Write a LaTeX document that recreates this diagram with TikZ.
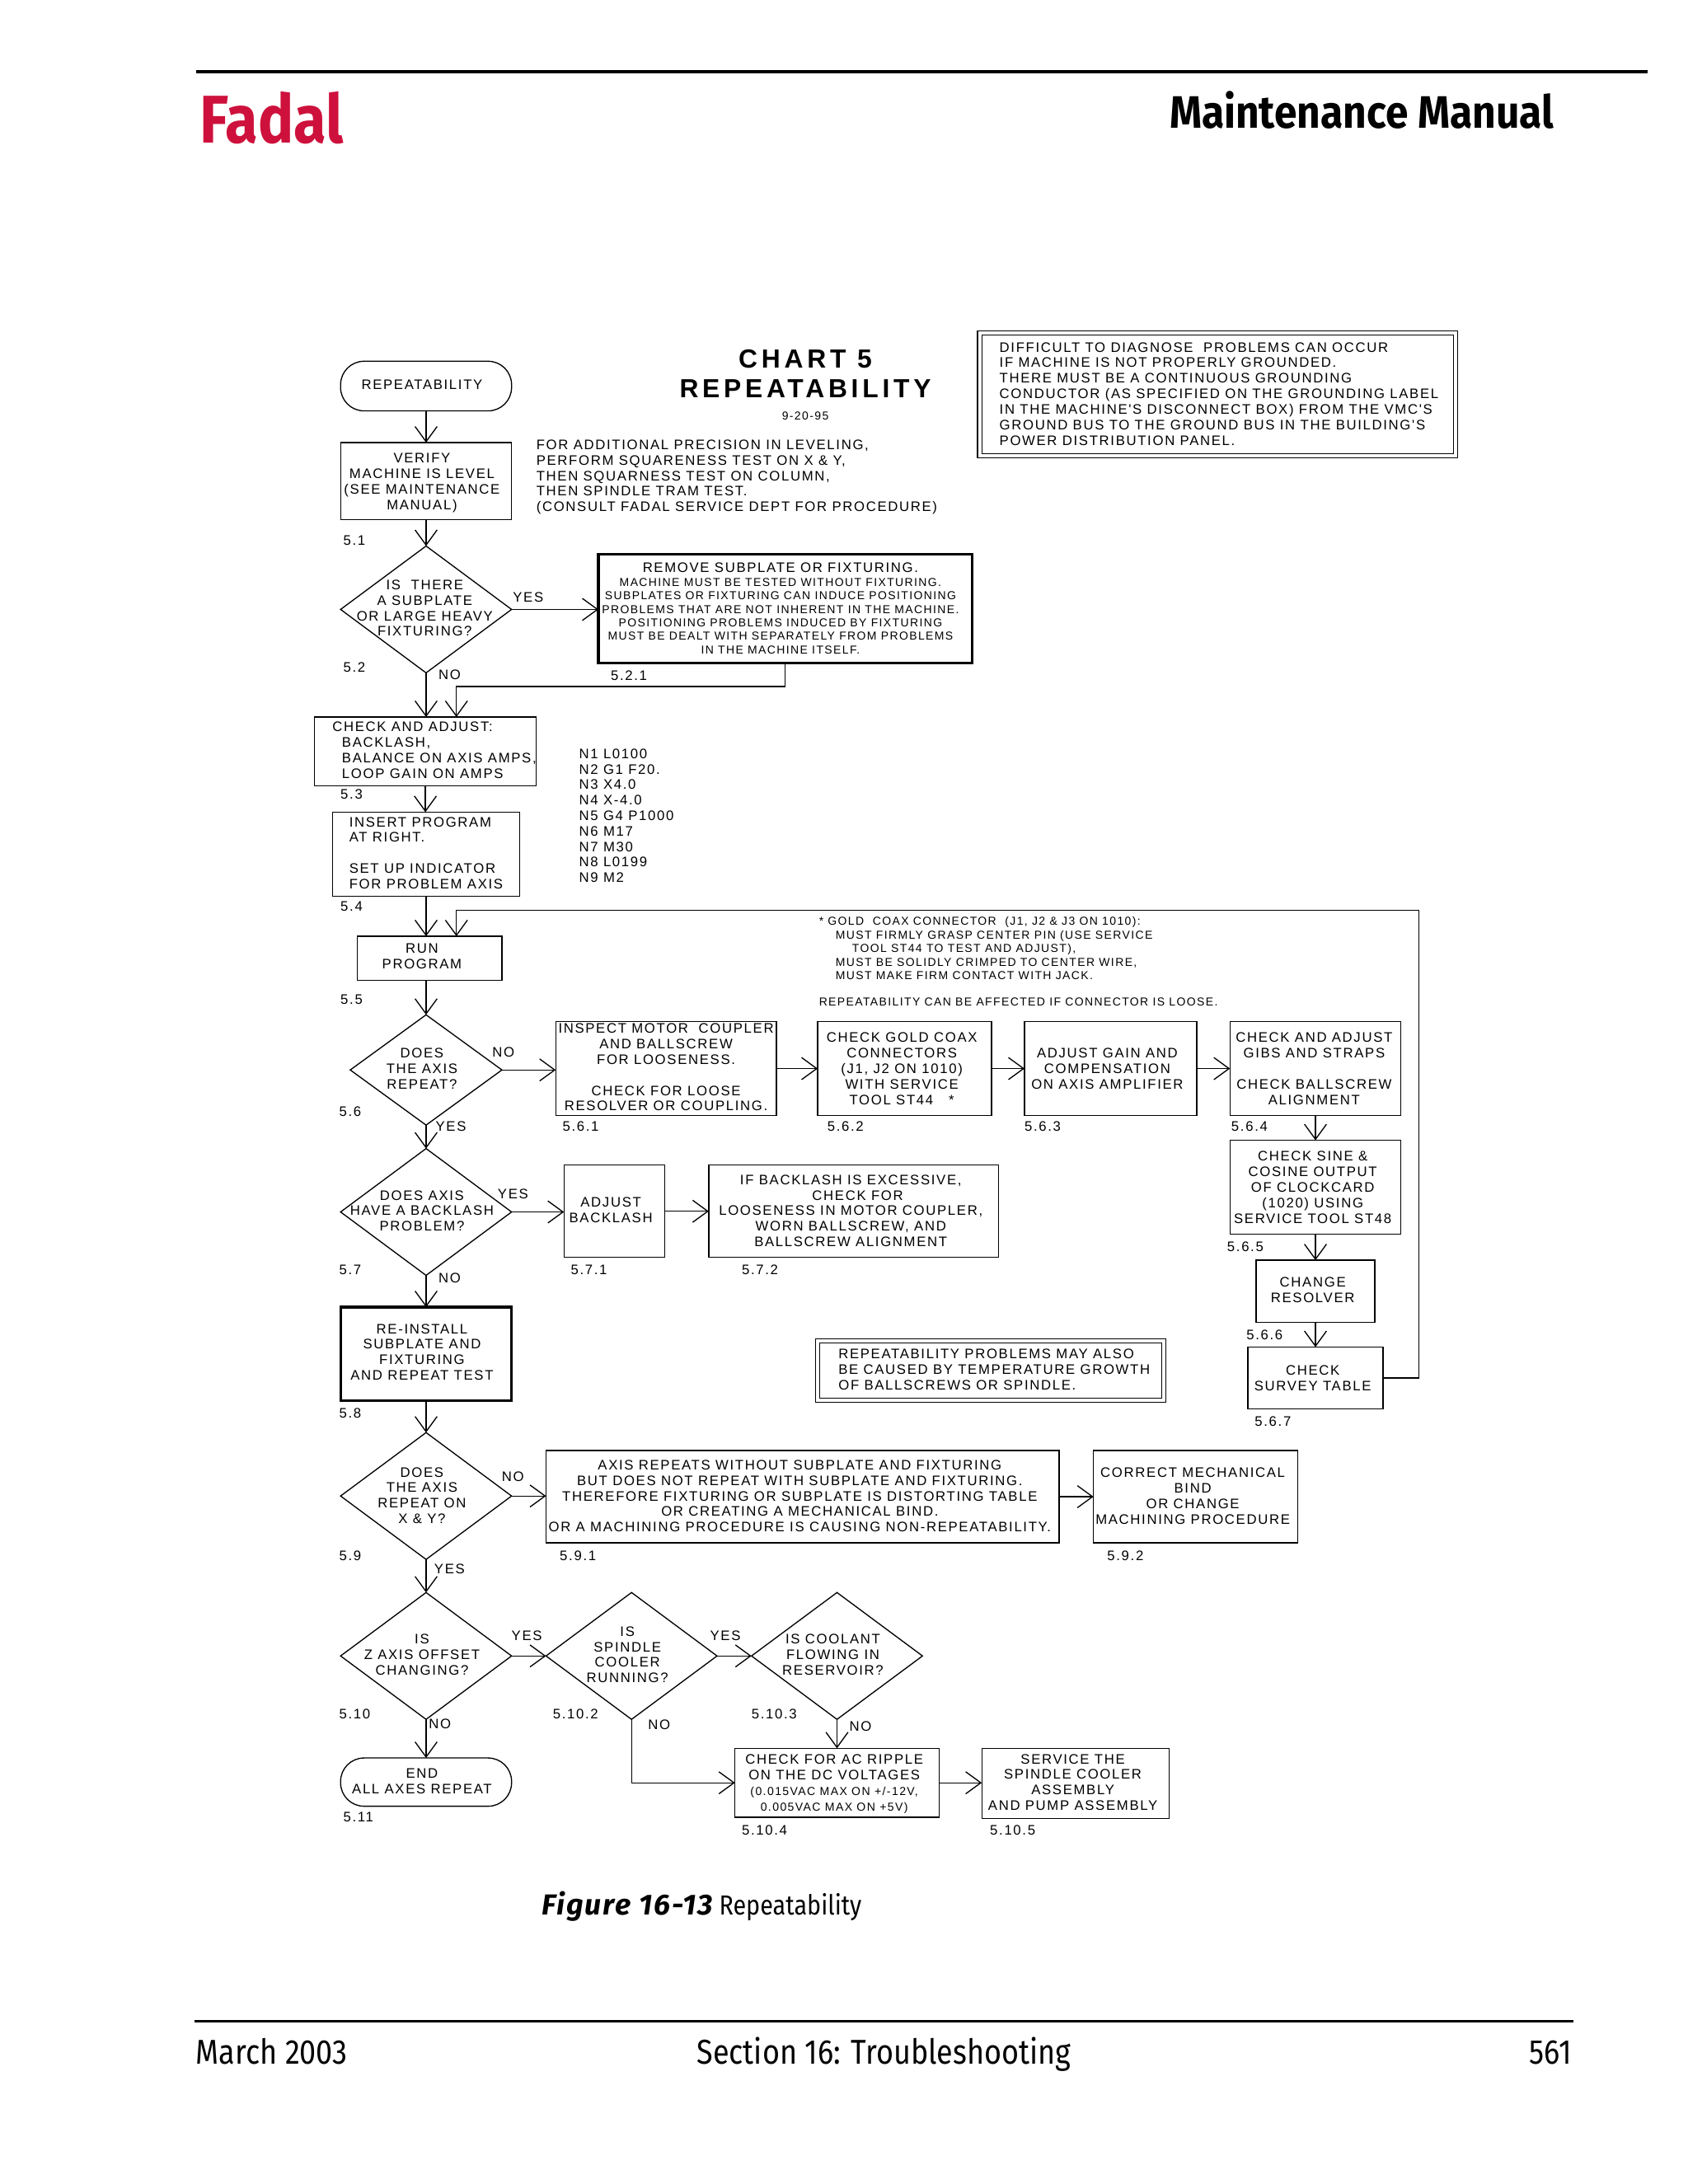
\documentclass[tikz,border=0pt]{standalone}
\usepackage{fontspec}
\usetikzlibrary{shapes.geometric,arrows.meta}
\setmainfont{Liberation Sans}
\newfontfamily\chartf[LetterSpace=10]{Liberation Sans}
\newfontfamily\titlef[LetterSpace=15,BoldFont={Liberation Sans Bold}]{Liberation Sans}
\newfontfamily\metaf[FakeStretch=.86]{Fira Sans}
\newfontfamily\brandf[FakeStretch=.88]{Fira Sans}
\newfontfamily\headf[FakeStretch=.9]{Fira Sans}
\newfontfamily\capf[FakeStretch=1.02,LetterSpace=5]{Fira Sans}
\newcommand\fs[2]{\fontsize{#1}{#2}\selectfont}
\definecolor{fadalred}{RGB}{206,17,60}
\newcommand\ML[4]{\makebox[0pt]{\kern#2pt\smash{\raisebox{\dimexpr#3pt-3.8pt\relax}{\begin{tabular}{@{}#1@{}}#4\end{tabular}}}\kern-#2pt}}
\newcommand\FB[9]{%
 \pgfmathsetmacro\fbcx{(#2+#4)/2}\pgfmathsetmacro\fbcy{(#3+#5)/2}%
 \pgfmathsetmacro\fbdx{#7-\fbcx}\pgfmathsetmacro\fbdy{\fbcy-#8}%
 \node[flowbox,#6,minimum width={(#4-#2)*1pt},minimum height={(#5-#3)*1pt}] (#1) at (\fbcx,\fbcy) {\ML{c}{\fbdx}{\fbdy}{#9}};}
\newcommand\FBL[9]{%
 \pgfmathsetmacro\fbcx{(#2+#4)/2}\pgfmathsetmacro\fbcy{(#3+#5)/2}%
 \pgfmathsetmacro\fbdx{#7-\fbcx}\pgfmathsetmacro\fbdy{\fbcy-#8}%
 \node[flowbox,#6,minimum width={(#4-#2)*1pt},minimum height={(#5-#3)*1pt}] (#1) at (\fbcx,\fbcy) {\ML{l}{\fbdx}{\fbdy}{#9}};}
% name, x, y, style, lines
\newcommand\TL[5]{\node[freetext,anchor=west,#4] (#1) at (#2,#3) {\begin{tabular}{@{}l@{}}#5\end{tabular}};}
\newcommand\TC[5]{\node[freetext,anchor=center,#4] (#1) at (#2,#3) {\begin{tabular}{@{}c@{}}#5\end{tabular}};}
\tikzset{
 flowbox/.style={draw,line width=.8pt,inner sep=0pt,outer sep=0pt,font=\chartf\fs{10}{11.25}},
 heavy/.style={line width=2pt},
 dbl/.style={double,double distance=2.4pt,line width=.8pt},
 term/.style={rounded corners=17pt},
 decision/.style={shape=diamond},
 smallbox/.style={font=\chartf\fs{8.35}{9.8}},
 freetext/.style={inner sep=0pt,outer sep=0pt,yshift=-1.3pt,font=\chartf\fs{10}{11.25}},
 smalltext/.style={font=\chartf\fs{8.35}{9.8}},
 flowline/.style={draw,line width=.8pt,-{Straight Barb[length=11pt,width=16pt]}},
 plainline/.style={draw,line width=.8pt},
 pagerule/.style={draw,line width=2.2pt}
}
\begin{document}
\begin{tikzpicture}[x=1pt,y=-1pt]
\useasboundingbox (0,0) rectangle (1224,1584);
% page furniture
\coordinate (ruleAa) at (142,52); \coordinate (ruleAb) at (1195,52);
\coordinate (ruleBa) at (141,1466); \coordinate (ruleBb) at (1141,1466);
\draw[pagerule] (ruleAa) -- (ruleAb);
\draw[pagerule] (ruleBa) -- (ruleBb);
\node[inner sep=0pt,anchor=base west,text=fadalred,font=\brandf\bfseries\fs{49}{49}] (brand) at (145,104) {Fadal};
\node[inner sep=0pt,anchor=base east,font=\headf\bfseries\fs{33}{33}] (manual) at (1127,93) {Maintenance Manual};
\node[inner sep=0pt,anchor=base west,font=\metaf\fs{25}{25}] (date) at (142,1497) {March 2003};
\node[inner sep=0pt,anchor=base,font=\metaf\fs{25}{25}] (section) at (641,1497) {Section 16: Troubleshooting};
\node[inner sep=0pt,anchor=base east,font=\metaf\fs{25}{25}] (page) at (1140,1497) {561};
\node[inner sep=0pt,anchor=base west,font=\metaf\fs{20}{20}] (caption) at (393,1389) {{\capf\fs{21}{21}\bfseries\itshape Figure 16-13} Repeatability};
% title and notes
\TC{t1}{584}{261}{font=\titlef\bfseries\fs{19}{22}}{CHART 5}
\TC{t2}{584}{283}{font=\titlef\bfseries\fs{19}{22}}{REPEATABILITY}
\TC{t3}{584}{301}{smalltext}{9-20-95}
\TL{precision}{389}{345}{}{FOR ADDITIONAL PRECISION IN LEVELING,\\PERFORM SQUARENESS TEST ON X \& Y,\\THEN SQUARNESS TEST ON COLUMN,\\THEN SPINDLE TRAM TEST.\\(CONSULT FADAL SERVICE DEPT FOR PROCEDURE)}
\FBL{ground}{710.5}{241.5}{1055.5}{330.5}{dbl}{884}{285.5}{DIFFICULT TO DIAGNOSE\ \ PROBLEMS CAN OCCUR\\IF MACHINE IS NOT PROPERLY GROUNDED.\\THERE MUST BE A CONTINUOUS GROUNDING\\CONDUCTOR (AS SPECIFIED ON THE GROUNDING LABEL\\IN THE MACHINE'S DISCONNECT BOX) FROM THE VMC'S\\GROUND BUS TO THE GROUND BUS IN THE BUILDING'S\\POWER DISTRIBUTION PANEL.}
\TL{ncode}{420}{591.5}{}{N1 L0100\\N2 G1 F20.\\N3 X4.0\\N4 X-4.0\\N5 G4 P1000\\N6 M17\\N7 M30\\N8 L0199\\N9 M2}
\TL{gold}{594}{687.5}{smalltext}{* GOLD\ \ COAX CONNECTOR\ \ (J1, J2 \& J3 ON 1010):\\\hspace*{12pt}MUST FIRMLY GRASP CENTER PIN (USE SERVICE\\\hspace*{24pt}TOOL ST44 TO TEST AND ADJUST),\\\hspace*{12pt}MUST BE SOLIDLY CRIMPED TO CENTER WIRE,\\\hspace*{12pt}MUST MAKE FIRM CONTACT WITH JACK.}
\TL{loose}{594}{726}{smalltext}{REPEATABILITY CAN BE AFFECTED IF CONNECTOR IS LOOSE.}
\FBL{growth}{593}{972.5}{844}{1015.5}{dbl}{721}{993}{REPEATABILITY PROBLEMS MAY ALSO\\BE CAUSED BY TEMPERATURE GROWTH\\OF BALLSCREWS OR SPINDLE.}
% main column
\FB{start}{247}{262}{371}{298}{term}{306}{279}{REPEATABILITY}
\FB{verify}{247}{321}{371}{377}{}{306}{349}{VERIFY\\MACHINE IS LEVEL\\(SEE MAINTENANCE\\MANUAL)}
\FB{d52}{247}{396}{371}{488}{decision}{308}{441}{IS\ \ THERE\\A SUBPLATE\\OR LARGE HEAVY\\FIXTURING?}
\FB{remove}{434}{402}{705}{481}{heavy,smallbox}{566}{441}{{\fs{10}{11.25}REMOVE SUBPLATE OR FIXTURING.}\\MACHINE MUST BE TESTED WITHOUT FIXTURING.\\SUBPLATES OR FIXTURING CAN INDUCE POSITIONING\\PROBLEMS THAT ARE NOT INHERENT IN THE MACHINE.\\POSITIONING PROBLEMS INDUCED BY FIXTURING\\MUST BE DEALT WITH SEPARATELY FROM PROBLEMS\\IN THE MACHINE ITSELF.}
\FBL{b53}{228}{520}{389}{570}{}{315}{544}{CHECK AND ADJUST:\\\hspace*{7pt}BACKLASH,\\\hspace*{7pt}BALANCE ON AXIS AMPS,\\\hspace*{7pt}LOOP GAIN ON AMPS}
\FBL{b54}{241}{589}{377}{650}{}{309}{618.5}{INSERT PROGRAM\\AT RIGHT.\\ \\SET UP INDICATOR\\FOR PROBLEM AXIS}
\FB{run}{259}{679}{364}{711}{}{306}{693.5}{RUN\\PROGRAM}
\FB{d56}{254}{736}{364}{816}{decision}{306}{775}{DOES\\THE AXIS\\REPEAT?}
\FB{b561}{403}{741}{563}{809}{}{483}{774}{INSPECT MOTOR\ \ COUPLER\\AND BALLSCREW\\FOR LOOSENESS.\\ \\CHECK FOR LOOSE\\RESOLVER OR COUPLING.}
\FB{b562}{593}{741}{719}{809}{}{654}{775}{CHECK GOLD COAX\\CONNECTORS\\(J1, J2 ON 1010)\\WITH SERVICE\\TOOL ST44\ \ \ *}
\FB{b563}{743}{741}{868}{809}{}{803}{775}{ADJUST GAIN AND\\COMPENSATION\\ON AXIS AMPLIFIER}
\FB{b564}{892}{741}{1016}{809}{}{953}{775}{CHECK AND ADJUST\\GIBS AND STRAPS\\ \\CHECK BALLSCREW\\ALIGNMENT}
\FB{b565}{892}{827}{1016}{895}{}{952}{861}{CHECK SINE \&\\COSINE OUTPUT\\OF CLOCKCARD\\(1020) USING\\SERVICE TOOL ST48}
\FB{b566}{911}{914}{997}{959}{}{952}{935.5}{CHANGE\\RESOLVER}
\FB{b567}{905}{977}{1003}{1022}{}{952}{999.5}{CHECK\\SURVEY TABLE}
\FB{d57}{247}{833}{371}{925}{decision}{306}{878}{DOES AXIS\\HAVE A BACKLASH\\PROBLEM?}
\FB{b571}{409}{845}{482}{912}{}{443}{877.5}{ADJUST\\BACKLASH}
\FB{b572}{514}{845}{724}{912}{}{617}{878}{IF BACKLASH IS EXCESSIVE,\\\hspace*{10pt}CHECK FOR\\LOOSENESS IN MOTOR COUPLER,\\WORN BALLSCREW, AND\\BALLSCREW ALIGNMENT}
\FB{b58}{247}{948}{371}{1016}{heavy}{306}{980.5}{RE-INSTALL\\SUBPLATE AND\\FIXTURING\\AND REPEAT TEST}
\FB{d59}{247}{1039}{371}{1131}{decision}{306}{1084.5}{DOES\\THE AXIS\\REPEAT ON\\X \& Y?}
\FB{b591}{396}{1052}{768}{1119}{}{580}{1085}{AXIS REPEATS WITHOUT SUBPLATE AND FIXTURING\\BUT DOES NOT REPEAT WITH SUBPLATE AND FIXTURING.\\THEREFORE FIXTURING OR SUBPLATE IS DISTORTING TABLE\\OR CREATING A MECHANICAL BIND.\\OR A MACHINING PROCEDURE IS CAUSING NON-REPEATABILITY.}
\FB{b592}{793}{1052}{941}{1119}{}{865}{1085}{CORRECT MECHANICAL\\BIND\\OR CHANGE\\MACHINING PROCEDURE}
\FB{d510}{247}{1155}{371}{1247}{decision}{306}{1200}{IS\\Z AXIS OFFSET\\CHANGING?}
\FB{d5102}{396}{1155}{520}{1247}{decision}{455}{1200}{IS\\SPINDLE\\COOLER\\RUNNING?}
\FB{d5103}{545}{1155}{669}{1247}{decision}{604}{1200}{IS COOLANT\\FLOWING IN\\RESERVOIR?}
\FB{endn}{247}{1275}{371}{1310}{term}{306}{1291.5}{END\\ALL AXES REPEAT}
\FB{b5104}{533}{1268}{681}{1318}{}{605}{1293}{CHECK FOR AC RIPPLE\\ON THE DC VOLTAGES\\{\fs{8.4}{9.5}(0.015VAC MAX ON +/-12V,}\\{\fs{8.4}{9.5}0.005VAC MAX ON +5V)}}
\FB{b5105}{712}{1268}{848}{1319}{}{778}{1292.5}{SERVICE THE\\SPINDLE COOLER\\ASSEMBLY\\AND PUMP ASSEMBLY}
% step numbers
\TL{l51}{249}{392}{}{5.1}
\TL{l52}{249}{484}{}{5.2}
\TL{l521}{443}{490}{}{5.2.1}
\TL{l53}{247}{576}{}{5.3}
\TL{l54}{247}{657}{}{5.4}
\TL{l55}{247}{725}{}{5.5}
\TL{l56}{246}{806}{}{5.6}
\TL{l561}{408}{817}{}{5.6.1}
\TL{l562}{600}{817}{}{5.6.2}
\TL{l563}{743}{817}{}{5.6.3}
\TL{l564}{893}{817}{}{5.6.4}
\TL{l565}{890}{904}{}{5.6.5}
\TL{l566}{904}{968}{}{5.6.6}
\TL{l567}{910}{1031}{}{5.6.7}
\TL{l57}{246}{921}{}{5.7}
\TL{l571}{414}{921}{}{5.7.1}
\TL{l572}{538}{921}{}{5.7.2}
\TL{l58}{246}{1025}{}{5.8}
\TL{l59}{246}{1128}{}{5.9}
\TL{l591}{406}{1128}{}{5.9.1}
\TL{l592}{803}{1128}{}{5.9.2}
\TL{l510}{246}{1243}{}{5.10}
\TL{l5102}{401}{1243}{}{5.10.2}
\TL{l5103}{545}{1243}{}{5.10.3}
\TL{l511}{249}{1318}{}{5.11}
\TL{l5104}{538}{1327}{}{5.10.4}
\TL{l5105}{718}{1327}{}{5.10.5}
% branch words
\TC{y52}{383}{433}{}{YES}
\TC{n52}{326}{489}{}{NO}
\TC{n56}{365}{763}{}{NO}
\TC{y56}{327}{817}{}{YES}
\TC{y57}{372}{866}{}{YES}
\TC{n57}{326}{927}{}{NO}
\TC{n59}{372}{1071}{}{NO}
\TC{y59}{326}{1138}{}{YES}
\TC{y510}{382}{1186}{}{YES}
\TC{n510}{319}{1250}{}{NO}
\TC{y5102}{526}{1186}{}{YES}
\TC{n5102}{478}{1251}{}{NO}
\TC{n5103}{624}{1252}{}{NO}
% connectors
\coordinate (fbA) at (331,498);
\coordinate (fbB) at (1029,660);
\path[flowline] (start.south) -- (start.south |- verify.north);
\path[flowline] (verify.south) -- (verify.south |- d52.north);
\path[flowline] (d52.east) -- (d52.east -| remove.west);
\path[flowline] (d52.south) -- (d52.south |- b53.north);
\path[flowline] (remove.south) |- (fbA) -- (fbA |- b53.north);
\path[flowline] (b53.south) -- (b53.south |- b54.north);
\path[flowline] (d52.south |- b54.south) -- (d52.south |- run.north);
\path[flowline] (b567.east) -| (fbB) -| (fbA |- run.north);
\path[flowline] (d52.south |- run.south) -- (d52.south |- d56.north);
\path[flowline] (d56.east) -- (d56.east -| b561.west);
\path[flowline] (b561.east) -- (b561.east -| b562.west);
\path[flowline] (b562.east) -- (b562.east -| b563.west);
\path[flowline] (b563.east) -- (b563.east -| b564.west);
\path[flowline] (b564.south) -- (b564.south |- b565.north);
\path[flowline] (b565.south) -- (b565.south |- b566.north);
\path[flowline] (b566.south) -- (b566.south |- b567.north);
\path[flowline] (d52.south |- d56.south) -- (d57.north);
\path[flowline] (d57.east) -- (d57.east -| b571.west);
\path[flowline] (b571.east) -- (b571.east -| b572.west);
\path[flowline] (d57.south) -- (b58.north);
\path[flowline] (b58.south) -- (d59.north);
\path[flowline] (d59.east) -- (d59.east -| b591.west);
\path[flowline] (b591.east) -- (b591.east -| b592.west);
\path[flowline] (d59.south) -- (d510.north);
\path[flowline] (d510.east) -- (d5102.west);
\path[flowline] (d5102.east) -- (d5103.west);
\path[flowline] (d510.south) -- (endn.north);
\path[flowline] (d5102.south) |- (b5104.west);
\path[flowline] (d5103.south) -- (d5103.south |- b5104.north);
\path[flowline] (b5104.east) -- (b5104.east -| b5105.west);
\end{tikzpicture}
\end{document}
